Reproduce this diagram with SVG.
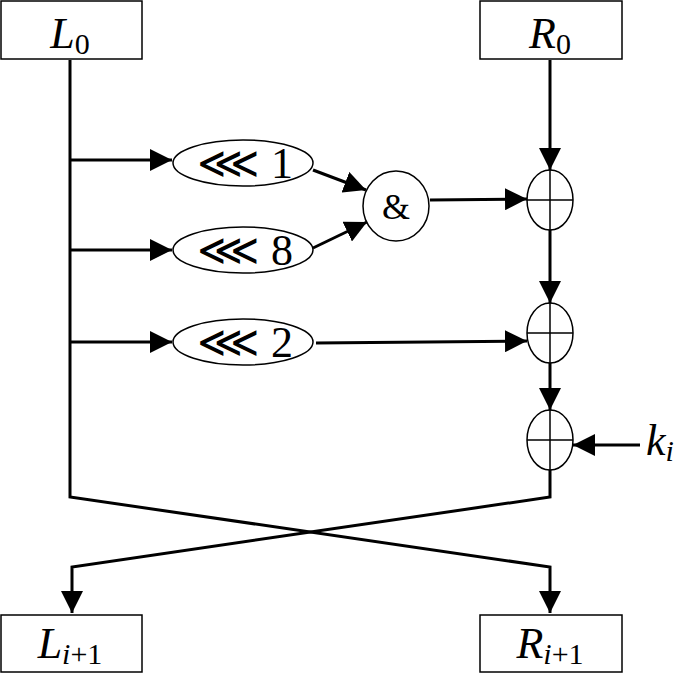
<svg xmlns="http://www.w3.org/2000/svg" width="685" height="674" viewBox="0 0 685 674">
<defs>
<style>
.b{fill:#fff;stroke:#000;stroke-width:1.5}
.t{font-family:'Liberation Serif','DejaVu Serif',serif;font-size:44px;text-anchor:middle}
.i{font-style:italic}
.s{font-size:30px}
.c{fill:none;stroke:#000;stroke-width:3}
</style>
<marker id="m" viewBox="0 0 10 10" refX="10" refY="5" markerWidth="22" markerHeight="22" markerUnits="userSpaceOnUse" orient="auto"><path d="M0,0 L10,5 L0,10 z" fill="#000"/></marker>
</defs>
<g id="connectors" class="c">
<path d="M70,60 V497 L550,567 V613" marker-end="url(#m)"/>
<path d="M550,470 V497 L72,567 V613" marker-end="url(#m)"/>
<path d="M70,160 H172" marker-end="url(#m)"/>
<path d="M70,250 H172" marker-end="url(#m)"/>
<path d="M70,342 H172" marker-end="url(#m)"/>
<path d="M313,170 L366,190" marker-end="url(#m)"/>
<path d="M313,248 L367,222" marker-end="url(#m)"/>
<path d="M430,200 L527,199" marker-end="url(#m)"/>
<path d="M316,343 L527,341" marker-end="url(#m)"/>
<path d="M550,60 V170" marker-end="url(#m)"/>
<path d="M550,230 V303" marker-end="url(#m)"/>
<path d="M550,363 V410" marker-end="url(#m)"/>
<path d="M640,445 H573" marker-end="url(#m)"/>
</g>
<g id="L0"><rect class="b" x="1" y="1" width="141" height="58"/><text class="t" font-family="Liberation Serif, serif" x="70" y="48"><tspan class="i">L</tspan><tspan class="s" dy="6">0</tspan></text></g>
<g id="R0"><rect class="b" x="480" y="1" width="142" height="58"/><text class="t" font-family="Liberation Serif, serif" x="550" y="48"><tspan class="i">R</tspan><tspan class="s" dy="6">0</tspan></text></g>
<g id="rot1"><ellipse class="b" cx="243" cy="163" rx="70" ry="23"/><text class="t" font-family="Liberation Serif, serif" x="245" y="178">⋘ 1</text></g>
<g id="rot8"><ellipse class="b" cx="243" cy="250" rx="70" ry="23"/><text class="t" font-family="Liberation Serif, serif" x="245" y="265">⋘ 8</text></g>
<g id="rot2"><ellipse class="b" cx="243" cy="342" rx="70" ry="23"/><text class="t" font-family="Liberation Serif, serif" x="245" y="357">⋘ 2</text></g>
<g id="and"><ellipse class="b" cx="396" cy="206" rx="33" ry="35"/><text class="t" font-family="Liberation Serif, serif" x="396" y="219" style="font-size:36px">&amp;</text></g>
<g id="xor1"><ellipse class="b" cx="550" cy="200" rx="23" ry="30"/><path d="M527,200 H573 M550,170 V230" stroke="#000" stroke-width="1.5"/></g>
<g id="xor2"><ellipse class="b" cx="550" cy="333" rx="23" ry="30"/><path d="M527,333 H573 M550,303 V363" stroke="#000" stroke-width="1.5"/></g>
<g id="xor3"><ellipse class="b" cx="550" cy="440" rx="23" ry="30"/><path d="M527,440 H573 M550,410 V470" stroke="#000" stroke-width="1.5"/></g>
<g id="ki"><text class="t" font-family="Liberation Serif, serif" x="660" y="455"><tspan class="i">k</tspan><tspan class="s i" dy="6">i</tspan></text></g>
<g id="Li1"><rect class="b" x="1" y="615" width="141" height="57"/><text class="t" font-family="Liberation Serif, serif" x="70" y="658"><tspan class="i">L</tspan><tspan class="s" dy="6"><tspan class="i">i</tspan>+1</tspan></text></g>
<g id="Ri1"><rect class="b" x="480" y="615" width="142" height="57"/><text class="t" font-family="Liberation Serif, serif" x="550" y="658"><tspan class="i">R</tspan><tspan class="s" dy="6"><tspan class="i">i</tspan>+1</tspan></text></g>
</svg>
